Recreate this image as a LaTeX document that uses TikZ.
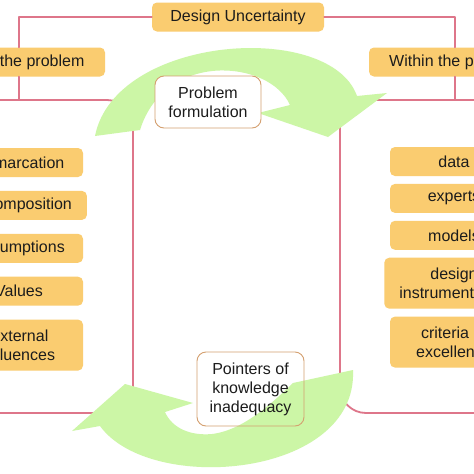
\documentclass[tikz,border=0pt]{standalone}
\usepackage{fontspec}
\setmainfont{Liberation Sans}
\usepackage{tikz}
\usetikzlibrary{positioning, calc}
\definecolor{DUorange}{RGB}{250, 204, 112}
\definecolor{DUpink}{RGB}{222, 118, 138}
\definecolor{DUgreen}{RGB}{204, 246, 166}
\definecolor{DUbrown}{RGB}{212, 160, 112}
\definecolor{DUtext}{RGB}{28, 28, 28}
\tikzset{every node/.style={font=\fontsize{16}{19}\selectfont, text=DUtext}, every path/.style={line cap=round, line join=round}}
\tikzset{
    tag/.style={fill=DUorange, rounded corners=5pt, minimum height=29pt, minimum width=128pt, inner xsep=15pt, inner ysep=4pt, align=center},
    link/.style={DUpink, line width=1.8pt},
    panel/.style={draw=DUpink, line width=1.8pt, rounded corners=26pt, minimum width=300pt, minimum height=313pt},
    stage/.style={draw=DUbrown, line width=0.9pt, rounded corners=9pt, align=center, inner sep=0pt},
    sweep/.style={fill=DUgreen}
}

\begin{document}
\begin{tikzpicture}[x=1pt, y=-1pt]
    \path [use as bounding box, fill=white] (0,0) rectangle (474,474);

    % the two frames
    \node [panel] (lpanel) at (-17,256.5) {};
    \node [panel] (rpanel) at (490,256.5) {};

    % top of the tree
    \node [tag, minimum width=172pt] (du) at (238,17) {Design Uncertainty};
    \node [tag, minimum width=172pt] (about) at (19,62) {About the problem};
    \node [tag, minimum width=172pt] (within) at (455,62) {Within the process};
    \draw [link] (du.west) -| (about.north);
    \draw [link] (du.east) -| (within.north);
    \draw [link] (about.south) -- (about.south |- lpanel.north);
    \draw [link] (within.south) -- (within.south |- rpanel.north);

    % left column
    \node [tag] (demarc) at (19,162.5) {Demarcation};
    \node [tag, below=13.5pt of demarc] (decomp) {Decomposition};
    \node [tag, below=13.5pt of decomp] (assum) {Assumptions};
    \node [tag, below=13.5pt of assum] (values) {Values};
    \node [tag, minimum height=51pt, below=13.5pt of values] (extern) {External\\influences};

    % right column
    \node [tag] (data) at (454,161.5) {data};
    \node [tag, below=7.5pt of data] (experts) {experts};
    \node [tag, below=7.5pt of experts] (models) {models};
    \node [tag, minimum height=51pt, below=7.5pt of models] (instr) {design\\instrumentation};
    \node [tag, minimum height=51pt, below=7.5pt of instr] (crit) {criteria of\\excellence};

    % upper sweep
    \fill [sweep] (95,136) .. controls (115,35) and (330,20) .. (357,96) -- (387,93) -- (328,137) -- (258,113) -- (290,105)
        .. controls (270,60) and (165,50) .. (140,130) -- cycle;
    \node [stage, fill=white, minimum width=106pt, minimum height=52pt] (problem) at (208,102) {Problem\\formulation};

    % lower sweep
    \fill [sweep] (353,370) .. controls (358,478) and (150,495) .. (100,426) -- (72,431) -- (125,384) -- (193,403) -- (165,412)
        .. controls (172,428) and (190,436) .. (212,434) .. controls (245,430) and (275,400) .. (293,383) -- cycle;
    \node [stage, minimum width=107pt, minimum height=74pt] (pointers) at (250.5,389) {Pointers of\\knowledge\\inadequacy};
\end{tikzpicture}
\end{document}
